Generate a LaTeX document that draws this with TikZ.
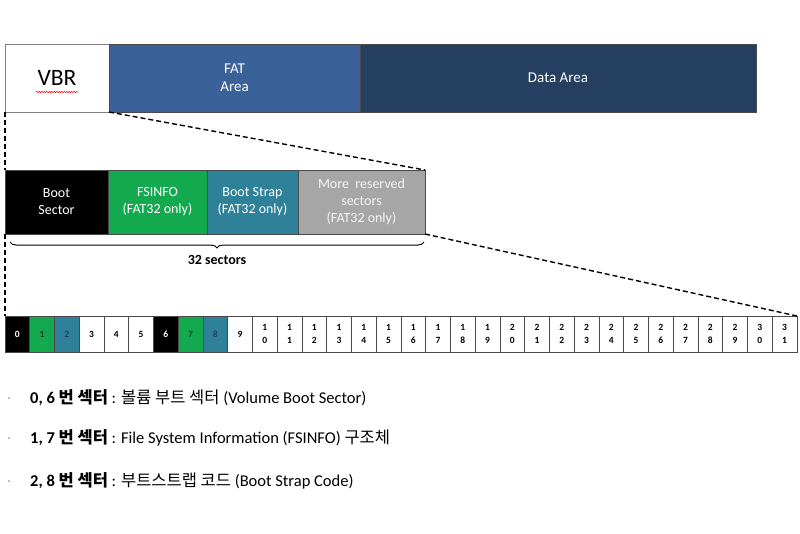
\documentclass[tikz,border=0pt]{standalone}
\usepackage{fontspec}
\setmainfont{Carlito}
\newfontfamily\kr{Noto Sans CJK KR}
\usetikzlibrary{positioning,calc,decorations.pathreplacing,decorations.pathmorphing}
\definecolor{fatblue}{HTML}{3A6298}
\definecolor{datablue}{HTML}{253F60}
\definecolor{fsgreen}{HTML}{13A94F}
\definecolor{bsteal}{HTML}{2F8199}
\definecolor{resgray}{HTML}{A6A6A6}
\definecolor{edge}{HTML}{4A4A4A}

\begin{document}
\begin{tikzpicture}[
    x=1pt, y=-1pt,
    area/.style={draw=edge, line width=0.8pt, outer sep=0pt, minimum height=68pt, inner sep=0pt, align=center, text=white, font=\fontsize{15}{18}\selectfont},
    part/.style={draw=edge, line width=0.8pt, outer sep=0pt, minimum height=64pt, inner sep=0pt, align=center, text=white, font=\fontsize{14}{17}\selectfont},
    cell/.style={draw=edge, line width=0.8pt, outer sep=0pt, minimum width=24.75pt, minimum height=36pt, inner sep=0pt, align=center, font=\fontsize{9.5}{12.5}\selectfont\bfseries},
    kind0/.style={fill=black, text=white},
    kind1/.style={fill=fsgreen, text=black!80},
    kind2/.style={fill=bsteal, text=datablue},
    kind3/.style={fill=white},
    zoomline/.style={dashed, dash pattern=on 5pt off 3pt, line width=1.4pt},
    note/.style={anchor=west, inner sep=0pt, font=\fontsize{16.5}{19}\selectfont},
    dot/.style={circle, fill=gray!60, inner sep=0pt, minimum size=2.5pt}
  ]
  \useasboundingbox (0,0) rectangle (800,533);

  % disk layout
  \node[area, anchor=north west, minimum width=104pt, draw=gray, fill=white, text=black, font=\fontsize{23.5}{26}\selectfont] (vbr) at (5,44) {VBR};
  \node[area, right=0pt of vbr, minimum width=251pt, fill=fatblue] (fat) {FAT\\Area};
  \node[area, right=0pt of fat, minimum width=396pt, fill=datablue] (data) {Data Area};
  \draw[red, line width=0.5pt, decorate, decoration={snake, amplitude=0.7pt, segment length=2.5pt}]
    ($(vbr.center)+(-21,14)$) -- ($(vbr.center)+(21,14)$);

  % reserved region
  \node[part, anchor=north west, minimum width=103pt, fill=black] (boot) at (5,170) {Boot\\Sector};
  \node[part, right=0pt of boot, minimum width=99pt, fill=fsgreen] (fsinfo) {FSINFO\\(FAT32 only)};
  \node[part, right=0pt of fsinfo, minimum width=91pt, fill=bsteal] (strap) {Boot Strap\\(FAT32 only)};
  \node[part, right=0pt of strap, minimum width=127pt, fill=resgray, text=white!92!gray] (more) {More~ reserved\\sectors\\(FAT32 only)};

  \draw[line width=1pt, decorate, decoration={brace, mirror, amplitude=6pt}]
    ($(boot.south west)+(5,8)$) -- ($(more.south east)+(-1,8)$) node[midway, below=9pt, font=\fontsize{14}{16}\selectfont\bfseries] (count) {32 sectors};

  % sectors
  \foreach \i in {0,...,31} {
    \pgfmathtruncatemacro\k{\i<9 ? min(mod(\i,6),3) : 3}
    \pgfmathtruncatemacro\tens{int(\i/10)}
    \pgfmathtruncatemacro\ones{mod(\i,10)}
    \node[cell, kind\k] (s\i) at ({5+\i*24.75+12.375},334)
      {\ifnum\i<10 \i\else\tens\\\ones\fi};
  }

  % zoom lines
  \draw[zoomline] (vbr.south west) -- (boot.north west);
  \draw[zoomline] (vbr.south east) -- (more.north east);
  \draw[zoomline] (boot.south west) -- (s0.north west);
  \draw[zoomline] (more.south east) -- (s31.north east);

  % notes
  \node[note] (n1) at (30,398) {\textbf{0, 6 {\kr\bfseries 번 섹터}} : {\kr 볼륨 부트 섹터} (Volume Boot Sector)};
  \node[note] (n2) at (30,438) {\textbf{1, 7 {\kr\bfseries 번 섹터}} : File System Information (FSINFO) {\kr 구조체}};
  \node[note] (n3) at (30,481) {\textbf{2, 8 {\kr\bfseries 번 섹터}} : {\kr 부트스트랩 코드} (Boot Strap Code)};
  \node[dot] (b1) at (9,398) {};
  \node[dot] (b2) at (9,438) {};
  \node[dot] (b3) at (9,481) {};
\end{tikzpicture}
\end{document}
